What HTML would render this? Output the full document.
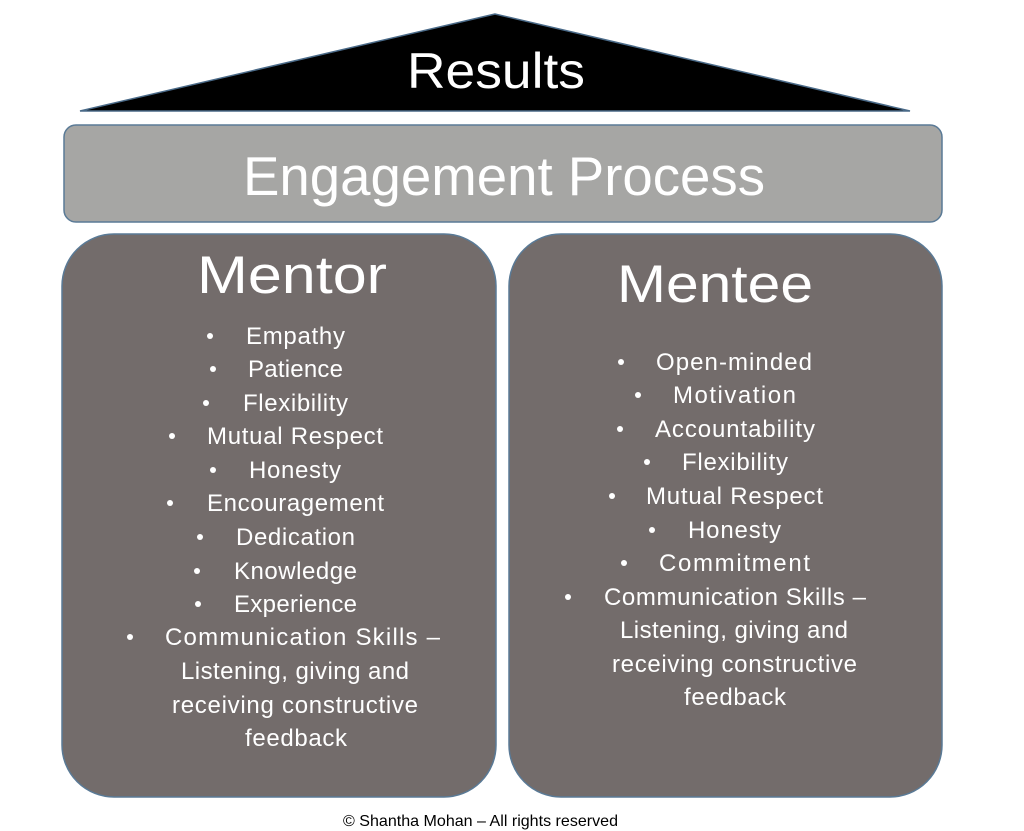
<!DOCTYPE html>
<html><head><meta charset="utf-8"><style>html,body{margin:0;padding:0;background:#fff}svg{display:block}</style></head>
<body>
<svg width="1024" height="831" viewBox="0 0 1024 831" xmlns="http://www.w3.org/2000/svg" font-family="'Liberation Sans', sans-serif">
<polygon points="495,14 80,111 910,111" fill="#000" stroke="#4a6a88" stroke-width="1.5"/>
<text x="407" y="88" font-size="50" fill="#fff" textLength="178" lengthAdjust="spacingAndGlyphs">Results</text>
<rect x="64" y="125" width="878" height="97" rx="12" fill="#a6a6a4" stroke="#5a7a96" stroke-width="1.5"/>
<text x="243" y="195" font-size="55" fill="#fff" textLength="522" lengthAdjust="spacingAndGlyphs">Engagement Process</text>
<rect x="62" y="234" width="434" height="563" rx="52" fill="#736c6b" stroke="#5a7a96" stroke-width="1.5"/>
<rect x="509" y="234" width="433" height="563" rx="52" fill="#736c6b" stroke="#5a7a96" stroke-width="1.5"/>
<text x="197" y="293" font-size="53" fill="#fff" textLength="190" lengthAdjust="spacingAndGlyphs">Mentor</text>
<text x="617" y="302" font-size="53" fill="#fff" textLength="196" lengthAdjust="spacingAndGlyphs">Mentee</text>
<g fill="#fff" font-size="24" lengthAdjust="spacingAndGlyphs">
<text x="246" y="344" textLength="99">Empathy</text>
<text x="248" y="377" textLength="95">Patience</text>
<text x="243" y="411" textLength="105">Flexibility</text>
<text x="207" y="444" textLength="176">Mutual Respect</text>
<text x="249" y="478" textLength="92">Honesty</text>
<text x="207" y="511" textLength="177">Encouragement</text>
<text x="236" y="545" textLength="119">Dedication</text>
<text x="234" y="579" textLength="123">Knowledge</text>
<text x="234" y="612" textLength="123">Experience</text>
<text x="165" y="645" textLength="275">Communication Skills –</text>
<text x="181" y="679" textLength="228">Listening, giving and</text>
<text x="172" y="713" textLength="246">receiving constructive</text>
<text x="245" y="746" textLength="102">feedback</text>
<text x="656" y="370" textLength="156">Open-minded</text>
<text x="673" y="403" textLength="123">Motivation</text>
<text x="655" y="437" textLength="160">Accountability</text>
<text x="682" y="470" textLength="106">Flexibility</text>
<text x="646" y="504" textLength="177">Mutual Respect</text>
<text x="688" y="538" textLength="93">Honesty</text>
<text x="659" y="571" textLength="151">Commitment</text>
<text x="604" y="605" textLength="262">Communication Skills –</text>
<text x="620" y="638" textLength="228">Listening, giving and</text>
<text x="612" y="672" textLength="245">receiving constructive</text>
<text x="684" y="705" textLength="102">feedback</text>
</g>
<g fill="#fff">
<circle cx="210" cy="336" r="3"/><circle cx="213" cy="369" r="3"/><circle cx="206" cy="403" r="3"/>
<circle cx="172" cy="436" r="3"/><circle cx="213" cy="470" r="3"/><circle cx="170" cy="503" r="3"/>
<circle cx="200" cy="537" r="3"/><circle cx="197" cy="571" r="3"/><circle cx="198" cy="604" r="3"/>
<circle cx="130" cy="637" r="3"/>
<circle cx="621" cy="362" r="3"/><circle cx="638" cy="395" r="3"/><circle cx="620" cy="429" r="3"/>
<circle cx="647" cy="462" r="3"/><circle cx="612" cy="496" r="3"/><circle cx="652" cy="530" r="3"/>
<circle cx="624" cy="563" r="3"/><circle cx="568" cy="597" r="3"/>
</g>
<text x="343" y="826" font-size="16" fill="#000" textLength="275" lengthAdjust="spacingAndGlyphs">© Shantha Mohan – All rights reserved</text>
</svg>
</body></html>
